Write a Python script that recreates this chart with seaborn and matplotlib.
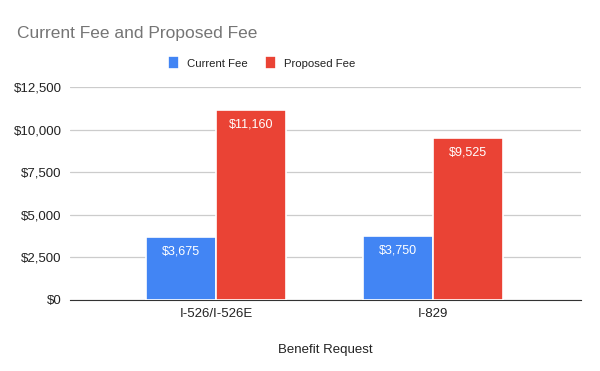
import matplotlib
matplotlib.use("Agg")
import matplotlib.pyplot as plt
import pandas as pd
import seaborn as sns

categories = ["I-526/I-526E", "I-829"]
current_fee = [3675, 3750]
proposed_fee = [11160, 9525]
series = ["Current Fee", "Proposed Fee"]
colors = ["#4285F4", "#EA4335"]

df = pd.DataFrame({
    "Benefit Request": categories * 2,
    "Fee": current_fee + proposed_fee,
    "Series": [series[0]] * 2 + [series[1]] * 2,
})

sns.set_style("white")
plt.rcParams["font.family"] = ["Liberation Sans", "DejaVu Sans"]

fig = plt.figure(figsize=(6, 3.71), dpi=100)
ax = fig.add_axes([0.1167, 0.1914, 0.8516, 0.5733])

sns.barplot(data=df, x="Benefit Request", y="Fee", hue="Series", palette=colors,
            saturation=1, width=0.645, edgecolor="white", linewidth=1.2,
            ax=ax, zorder=3)

for cont in ax.containers:
    ax.bar_label(cont, labels=[f"${v:,.0f}" for v in cont.datavalues],
                 padding=-14.5, color="white", fontsize=9)

ax.set_xlim(-0.673, 1.68)
ax.set_ylim(0, 12500)
ax.set_yticks([0, 2500, 5000, 7500, 10000, 12500])
ax.set_yticklabels([f"${t:,}" for t in [0, 2500, 5000, 7500, 10000, 12500]])
ax.grid(axis="y", color="#cccccc", linewidth=0.9, zorder=0)
ax.set_axisbelow(True)
for s in ["top", "right", "left"]:
    ax.spines[s].set_visible(False)
ax.spines["bottom"].set_color("#333333")
ax.tick_params(axis="both", length=0, labelsize=9.5, colors="#222222", pad=6)
ax.set_ylabel("")
ax.set_xlabel("Benefit Request", fontsize=9.5, color="#222222", labelpad=17)

fig.text(0.028, 0.91, "Current Fee and Proposed Fee", fontsize=12.5,
         color="#757575", va="center")

ax.legend(loc="center", bbox_to_anchor=(0.375, 1.115), ncol=2, frameon=False,
          fontsize=8.2, handlelength=1.0, handleheight=1.4, columnspacing=1.5,
          handletextpad=0.7, labelcolor="#222222")

fig.savefig("out.png", dpi=100)
